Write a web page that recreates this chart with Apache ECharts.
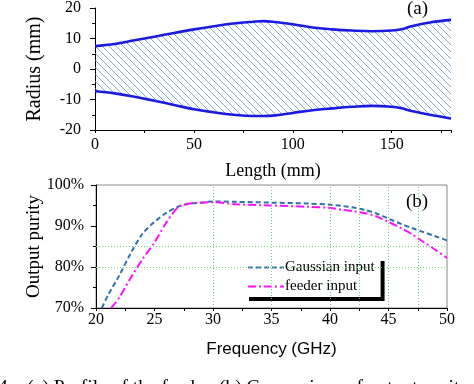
<!DOCTYPE html>
<html><head><meta charset="utf-8">
<script src="https://cdn.jsdelivr.net/npm/echarts@6/dist/echarts.min.js"></script>
<style>html,body{margin:0;padding:0;background:#fff}#c{width:474px;height:384px}</style>
</head><body><div id="c"></div>
<script>
// (a) feeder profile
var lengthMM = [0, 10, 20, 30, 40, 50, 60, 70, 80, 85, 90, 100, 110, 120, 130, 140, 150, 155, 160, 170, 180];
var upperRadius = [7.5, 8.2, 9.4, 10.6, 11.8, 13.0, 14.0, 14.9, 15.5, 15.7, 15.5, 14.7, 13.6, 13.0, 12.6, 12.4, 12.6, 13.0, 14.0, 15.3, 16.1];
var lowerRadius = [-7.3, -8.0, -9.1, -10.4, -11.8, -13.2, -14.2, -15.0, -15.4, -15.4, -15.3, -14.4, -13.5, -12.9, -12.4, -12.1, -12.4, -12.9, -13.8, -15.1, -16.2];
var radiusTicks = [-20, -10, 0, 10, 20];
var lengthTicks = [0, 50, 100, 150];

// (b) output purity
var freqGHz = [20.5, 21, 21.3, 22, 23, 24, 25, 26, 27, 27.5, 28, 29, 30, 32, 35, 38, 40, 41, 42, 43, 44, 45, 46, 47, 48, 49, 50];
var gaussianPurity = [70, 73, 74.5, 78, 83.5, 88.2, 91, 93.2, 94.7, 95.2, 95.5, 95.7, 96.0, 95.9, 95.7, 95.5, 95.2, 94.9, 94.5, 93.9, 93.0, 91.8, 90.6, 89.5, 88.5, 87.5, 86.5];
var feederPurity = [null, null, 70, 72.6, 77.5, 82, 86, 90.8, 94.6, 95.1, 95.5, 95.7, 95.8, 95.3, 95.0, 94.7, 94.4, 94.0, 93.6, 93.1, 92.3, 91.0, 89.6, 88.0, 86.1, 84.2, 82.2];
var freqGridLines = [30, 35, 40, 42.5, 45, 47.5];
var purityGridLines = [80, 85];
var seriesNames = ['Gaussian input', 'feeder input'];

var serif = '"Liberation Serif", "Times New Roman", serif';

// hatch pattern
var P = 7;
var pc = document.createElement('canvas');
pc.width = P; pc.height = P;
var g = pc.getContext('2d');
g.strokeStyle = '#5b96cc';
g.lineWidth = 0.8;
g.beginPath();
g.moveTo(-1, -1); g.lineTo(P + 1, P + 1);
g.moveTo(-1, P - 1); g.lineTo(1, P + 1);
g.moveTo(P - 1, -1); g.lineTo(P + 1, 1);
g.stroke();
var hatch = {image: pc, repeat: 'repeat'};

function pairs(xs, ys) { return xs.map(function (x, i) { return [x, ys[i]]; }); }

var chart = echarts.init(document.getElementById('c'), null, {renderer: 'canvas'});
var axisText = {color: '#000', fontFamily: serif, fontSize: 16};
chart.setOption({
  animation: false,
  backgroundColor: '#fff',
  grid: [
    {left: 95, right: 23, top: 7, height: 123},
    {left: 96, right: 27, top: 185, height: 123, show: true, borderColor: '#888', borderWidth: 1, backgroundColor: 'transparent'}
  ],
  legend: {
    data: seriesNames.map(function (n) { return {name: n}; }),
    orient: 'vertical', left: 245, top: 257,
    itemWidth: 36, itemHeight: 10, itemGap: 4,
    padding: [3, 6, 3, 2],
    backgroundColor: '#fff',
    itemStyle: {opacity: 0},
    shadowColor: '#000', shadowBlur: 0, shadowOffsetX: 4, shadowOffsetY: 4,
    textStyle: {color: '#000', fontFamily: serif, fontSize: 15, padding: [0, 0, 0, -4]}
  },
  xAxis: [
    {gridIndex: 0, type: 'value', min: 0, max: 180, interval: 50,
     name: 'Length (mm)', nameLocation: 'middle', nameGap: 32, nameMoveOverlap: false,
     nameTextStyle: {color: '#000', fontFamily: serif, fontSize: 18, verticalAlign: 'top'},
     axisLine: {onZero: false, lineStyle: {color: '#000', width: 1}},
     axisTick: {inside: false, length: 3, lineStyle: {color: '#000'}},
     minorTick: {show: true, splitNumber: 2, length: 3, lineStyle: {color: '#000'}},
     axisLabel: Object.assign({margin: 7, formatter: function (v) { return lengthTicks.indexOf(v) >= 0 ? String(v) : ''; }}, axisText),
     splitLine: {show: false}},
    {gridIndex: 1, type: 'value', min: 20, max: 50, interval: 5,
     name: 'Frequency (GHz)', nameLocation: 'middle', nameGap: 33, nameMoveOverlap: false,
     nameTextStyle: {color: '#000', fontFamily: '"Liberation Sans", Arial, sans-serif', fontSize: 17, verticalAlign: 'top'},
     axisLine: {onZero: false, lineStyle: {color: '#000', width: 1.2}},
     axisTick: {inside: false, length: 3, lineStyle: {color: '#000'}},
     minorTick: {show: true, splitNumber: 2, length: 3, lineStyle: {color: '#000'}},
     axisLabel: Object.assign({margin: 4}, axisText),
     splitLine: {show: false}}
  ],
  yAxis: [
    {gridIndex: 0, type: 'value', min: -20, max: 20, interval: 10,
     name: 'Radius (mm)', nameLocation: 'middle', nameGap: 50, nameMoveOverlap: false,
     nameTextStyle: {color: '#000', fontFamily: serif, fontSize: 20},
     axisLine: {show: true, onZero: false, lineStyle: {color: '#000', width: 1}},
     axisTick: {show: true, length: 5, lineStyle: {color: '#000'}},
     minorTick: {show: true, splitNumber: 2, length: 3, lineStyle: {color: '#000'}},
     axisLabel: Object.assign({margin: 14}, axisText),
     splitLine: {show: false}},
    {gridIndex: 1, type: 'value', min: 70, max: 100, interval: 10,
     name: 'Output purity', nameLocation: 'middle', nameGap: 52, nameMoveOverlap: false,
     nameTextStyle: {color: '#000', fontFamily: serif, fontSize: 19},
     axisLine: {show: true, onZero: false, lineStyle: {color: '#000', width: 1}},
     axisTick: {show: true, length: 5, lineStyle: {color: '#000'}},
     minorTick: {show: true, splitNumber: 2, length: 3, lineStyle: {color: '#000'}},
     axisLabel: Object.assign({margin: 12, formatter: '{value}%'}, axisText),
     splitLine: {show: false}}
  ],
  series: [
    {type: 'line', xAxisIndex: 0, yAxisIndex: 0, data: pairs(lengthMM, upperRadius),
     smooth: 0.4, showSymbol: false, symbol: 'none',
     lineStyle: {color: '#1a1ae0', width: 2.6},
     areaStyle: {color: hatch, origin: 0, opacity: 1}, z: 3},
    {type: 'line', xAxisIndex: 0, yAxisIndex: 0, data: pairs(lengthMM, lowerRadius),
     smooth: 0.4, showSymbol: false, symbol: 'none',
     lineStyle: {color: '#1a1ae0', width: 2.6},
     areaStyle: {color: hatch, origin: 0, opacity: 1}, z: 3},
    {name: seriesNames[0], type: 'line', xAxisIndex: 1, yAxisIndex: 1, data: pairs(freqGHz, gaussianPurity),
     smooth: 0.3, showSymbol: false, symbol: 'none', connectNulls: false,
     itemStyle: {color: '#3470aa'},
     lineStyle: {color: '#3470aa', width: 2, type: [5, 3]},
     markLine: {silent: true, symbol: 'none', label: {show: false},
       lineStyle: {type: [1, 2], color: '#6fd66f', width: 1},
       data: freqGridLines.map(function (v) { return {xAxis: v}; }).concat(purityGridLines.map(function (v) { return {yAxis: v}; }))},
     z: 3},
    {name: seriesNames[1], type: 'line', xAxisIndex: 1, yAxisIndex: 1, data: pairs(freqGHz, feederPurity),
     smooth: 0.3, showSymbol: false, symbol: 'none', connectNulls: false,
     itemStyle: {color: '#ff10ff'},
     lineStyle: {color: '#ff10ff', width: 2, type: [8, 3, 2, 3]}, z: 4}
  ],
  graphic: [
    {type: 'text', left: 407, top: 0, style: {text: '(a)', font: '19px ' + serif, fill: '#000'}},
    {type: 'text', left: 406, top: 193, style: {text: '(b)', font: '19px ' + serif, fill: '#000'}},
    {type: 'text', left: -2, top: 378, style: {text: '4.   (a) Profile of the feeder. (b) Comparison of output purity with', font: '19.5px ' + serif, fill: '#000'}}
  ]
});
</script></body></html>
